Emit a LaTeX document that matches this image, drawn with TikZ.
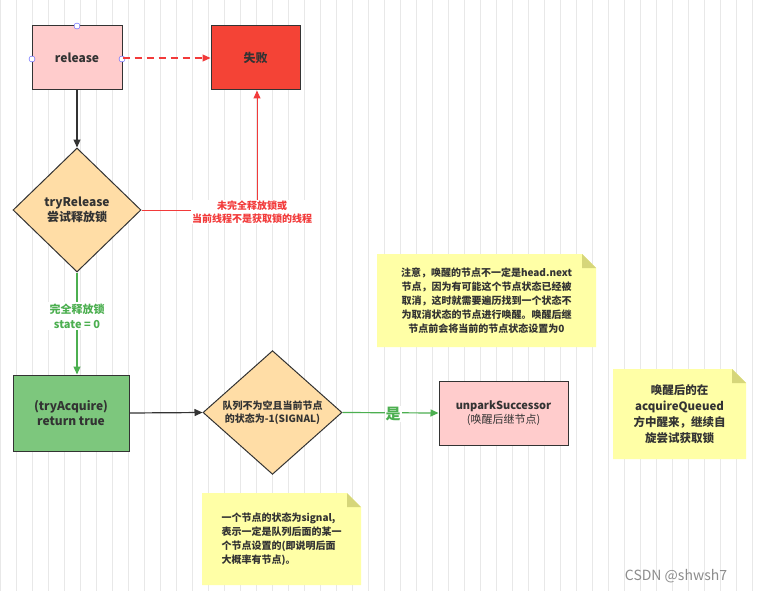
\documentclass[tikz,border=0pt]{standalone}
\usepackage{fontspec}
\setmainfont{Noto Sans CJK SC}
\usetikzlibrary{shapes.geometric,arrows.meta}
\definecolor{pinkf}{HTML}{FFCCCC}
\definecolor{redf}{HTML}{F44336}
\definecolor{peach}{HTML}{FFDDA6}
\definecolor{greenf}{HTML}{7DC77D}
\definecolor{notef}{HTML}{FFFFA6}
\definecolor{notefold}{HTML}{D6D67A}
\definecolor{edge}{HTML}{333333}
\definecolor{gtxt}{HTML}{4CAF50}
\definecolor{rtxt}{HTML}{F23A3A}
\tikzset{
  box/.style={draw=edge,line width=1pt,minimum width=#1,align=center,font=\fontsize{12}{15}\selectfont\bfseries,text=edge},
  dia/.style={diamond,draw=edge,line width=1pt,fill=peach,aspect=1,inner sep=0pt,align=center,text=edge},
  arr/.style={-{Triangle[length=8pt,width=7pt]},line width=1.2pt,draw=edge},
  note/.style={font=\fontsize{10}{14}\selectfont\bfseries,text=edge,align=center},
  handle/.style={circle,draw=blue!70,fill=white,inner sep=0pt,minimum size=6pt}
}
\newcommand{\notebox}[5]{% x1 y1 x2 y2 name
  \fill[notef] (#1,#2) -- (#3-14,#2) -- (#3,#2+14) -- (#3,#4) -- (#1,#4) -- cycle;
  \fill[notefold] (#3-14,#2) -- (#3,#2+14) -- (#3-14,#2+14) -- cycle;
  \coordinate (#5) at ({(#1+#3)/2},{(#2+#4)/2});
}
\begin{document}
\begin{tikzpicture}[x=1pt,y=-1pt]
\useasboundingbox (0,0) rectangle (762,591);
\fill[white] (0,0) rectangle (762,591);
\draw[black!9,line width=0.5pt,step=16] (0,0) grid (762,591);
% nodes
\node[box=90pt,minimum height=64pt,fill=pinkf] (rel) at (77,58) {release};
\node[box=89pt,minimum height=64pt,fill=redf] (fail) at (255.5,58) {失败};
\node[dia,minimum width=128pt,minimum height=124pt,font=\fontsize{12}{15}\selectfont\bfseries] (tr) at (77,210) {tryRelease\\尝试释放锁};
\node[box=116pt,minimum height=76pt,fill=greenf] (acq) at (71,413) {(tryAcquire)\\return true};
\node[dia,minimum width=139pt,minimum height=111pt,font=\fontsize{10}{13}\selectfont\bfseries] (d2) at (272.5,412.5) {队列不为空且当前节点\\的状态为-1(SIGNAL)};
\node[box=129pt,minimum height=64pt,fill=pinkf,font=\fontsize{11}{15}\selectfont\bfseries] (up) at (503.5,413) {unparkSuccessor\\[-1pt]{\mdseries(唤醒后继节点)}};
% handles
\node[handle] (h1) at (77,26) {};
\node[handle] (h2) at (32,59) {};
\node[handle] (h3) at (122,59) {};
% connectors
\draw[-{Triangle[length=8pt,width=7pt]},line width=1.2pt,draw=rtxt,dashed,dash pattern=on 7pt off 5pt] (rel.east) -- (fail.west);
\draw[arr] (rel.south) -- (tr.north);
\draw[-{Triangle[length=8pt,width=7pt]},line width=1pt,draw=rtxt] (tr.east) -- (257,210) -- (fail.south -| 257,0);
\node[fill=white,text=rtxt,font=\fontsize{10}{13}\selectfont\bfseries,align=center,inner sep=1pt] (lb1) at (252,212) {未完全释放锁或\\当前线程不是获取锁的线程};
\draw[-{Triangle[length=8pt,width=7pt]},line width=1.2pt,draw=gtxt] (tr.south) -- (tr.south |- acq.north);
\node[fill=white,text=gtxt,font=\fontsize{11}{15}\selectfont\bfseries,align=center,inner sep=2pt] (lb2) at (77,316) {完全释放锁\\state = 0};
\draw[arr] (acq.east) -- (d2.west);
\draw[-{Triangle[length=8pt,width=7pt]},line width=1.2pt,draw=gtxt] (d2.east) -- (up.west);
\node[fill=white,text=gtxt,font=\fontsize{15}{18}\selectfont\bfseries,inner sep=1pt] (lb3) at (393,414) {是};
% notes
\notebox{377}{254}{596}{347}{n1}
\node[note] (t1) at (n1) {注意，唤醒的节点不一定是head.next\\节点，因为有可能这个节点状态已经被\\取消，这时就需要遍历找到一个状态不\\为取消状态的节点进行唤醒。唤醒后继\\节点前会将当前的节点状态设置为0};
\notebox{613}{369}{746}{459}{n2}
\node[note,font=\fontsize{11.5}{16}\selectfont\bfseries] (t2) at (n2) {唤醒后的在\\acquireQueued\\方中醒来，继续自\\旋尝试获取锁};
\notebox{202}{493}{361}{585}{n3}
\node[note,align=left] (t3) at (n3) {一个节点的状态为signal,\\表示一定是队列后面的某一\\个节点设置的(即说明后面\\大概率有节点)。};
\node[text=black!45,font=\fontsize{14}{16}\selectfont] (wm) at (676,576) {CSDN @shwsh7};
\end{tikzpicture}
\end{document}
